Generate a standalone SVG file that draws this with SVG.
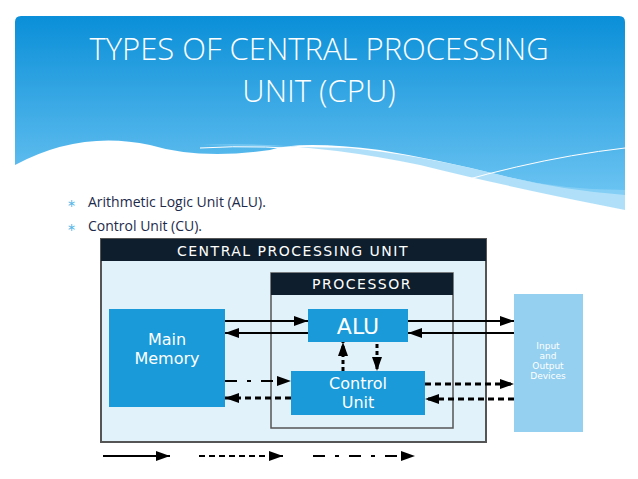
<svg xmlns="http://www.w3.org/2000/svg" width="638" height="479" viewBox="0 0 638 479">
<defs>
<linearGradient id="hg" x1="0" y1="0" x2="0" y2="1"><stop offset="0" stop-color="#0a8fd8"/><stop offset="1" stop-color="#6cc4f2"/></linearGradient>
<marker id="ahb" markerWidth="14" markerHeight="10" refX="14" refY="5" orient="auto" markerUnits="userSpaceOnUse" viewBox="0 0 14 10"><path d="M0,0 L14,5 L0,10 z" fill="#000"/></marker>
</defs>
<style>
.t{font-family:"Open Sans","Noto Sans",sans-serif;fill:#fff;font-size:31px;font-weight:300;text-anchor:middle}
.b{font-family:"Open Sans","Noto Sans",sans-serif;fill:#1d2a4a;font-size:14px}
.hd{font-family:"DejaVu Sans",sans-serif;fill:#fff;font-size:14px;text-anchor:middle;letter-spacing:1.5px}
.bx{fill:#1a9ad8}
.lb{font-family:"DejaVu Sans",sans-serif;fill:#fff;text-anchor:middle}
.s{stroke:#000;stroke-width:2;fill:none;marker-end:url(#ahb)}
.d{stroke:#000;stroke-width:3;fill:none;stroke-dasharray:6,4;marker-end:url(#ahb)}
.dd{stroke:#000;stroke-width:2;fill:none;stroke-dasharray:12,10,4,10;marker-end:url(#ahb)}
</style>
<rect width="638" height="479" fill="#fff"/>
<path d="M15,22 Q15,16 21,16 L619,16 Q625,16 625,22 L625,195 Q560,190 500,175 Q440,160 380,150 Q300,140 270,150 Q200,160 150,145 Q80,130 15,165 Z" fill="url(#hg)"/>
<path d="M200,145 Q300,140 420,165 Q500,185 600,205 L625,210 L625,190 Q560,190 500,175 Q420,155 350,148 Z" fill="#8fd3f7" opacity="0.7"/>
<path d="M200,148 Q330,140 470,180 Q540,200 585,212" stroke="#fff" stroke-width="1" fill="none"/>
<path d="M400,200 Q520,160 625,148" stroke="#fff" stroke-width="1" fill="none"/>
<text class="t" x="319" y="60">TYPES OF CENTRAL PROCESSING</text>
<text class="t" x="319" y="102">UNIT (CPU)</text>
<text x="67" y="207" font-family="DejaVu Sans,sans-serif" font-size="11" fill="#5bb8e8">∗</text>
<text class="b" x="88" y="207">Arithmetic Logic Unit (ALU).</text>
<text x="67" y="231" font-family="DejaVu Sans,sans-serif" font-size="11" fill="#5bb8e8">∗</text>
<text class="b" x="88" y="231">Control Unit (CU).</text>
<g id="cpu"><rect x="101" y="239" width="385" height="203" fill="#e2f2fb" stroke="#555" stroke-width="2"/><rect x="101" y="239" width="385" height="22" fill="#0e1e2c"/><text class="hd" x="293" y="256">CENTRAL PROCESSING UNIT</text></g>
<g id="processor"><rect x="271" y="273" width="182" height="155" fill="none" stroke="#555" stroke-width="1.5"/><rect x="271" y="273" width="182" height="22" fill="#0e1e2c"/><text class="hd" x="362" y="289" font-size="13">PROCESSOR</text></g>
<g id="mem"><rect class="bx" x="109" y="309" width="116" height="98"/><text class="lb" x="167" y="345" font-size="16">Main</text><text class="lb" x="167" y="364" font-size="16">Memory</text></g>
<g id="alu"><rect class="bx" x="308" y="309" width="100" height="33"/><text class="lb" x="358" y="334" font-size="22">ALU</text></g>
<g id="cu"><rect class="bx" x="291" y="371" width="134" height="44"/><text class="lb" x="358" y="389" font-size="16">Control</text><text class="lb" x="358" y="408" font-size="16">Unit</text></g>
<g id="io"><rect x="514" y="294" width="69" height="138" fill="#95d0f0"/><text class="lb" x="548" y="349" font-size="9">Input</text><text class="lb" x="548" y="359" font-size="9">and</text><text class="lb" x="548" y="369" font-size="9">Output</text><text class="lb" x="548" y="379" font-size="9">Devices</text></g>
<g id="connectors">
<line class="s" x1="225" y1="321" x2="308" y2="321"/>
<line class="s" x1="308" y1="333" x2="225" y2="333"/>
<line class="s" x1="408" y1="321" x2="514" y2="321"/>
<line class="s" x1="514" y1="333" x2="408" y2="333"/>
<line class="d" x1="343" y1="371" x2="343" y2="342" style="stroke-dasharray:4,3"/>
<line class="d" x1="377" y1="344" x2="377" y2="371" style="stroke-dasharray:4,3"/>
<line class="dd" x1="225" y1="381" x2="291" y2="381"/>
<line class="d" x1="291" y1="398" x2="225" y2="398"/>
<line class="d" x1="425" y1="384" x2="514" y2="384"/>
<line class="d" x1="514" y1="399" x2="425" y2="399"/>
<line class="s" x1="103" y1="456" x2="170" y2="456"/>
<line class="d" x1="199" y1="456" x2="283" y2="456" style="stroke-width:2"/>
<line class="dd" x1="313" y1="456" x2="415" y2="456"/>
</g>
</svg>
